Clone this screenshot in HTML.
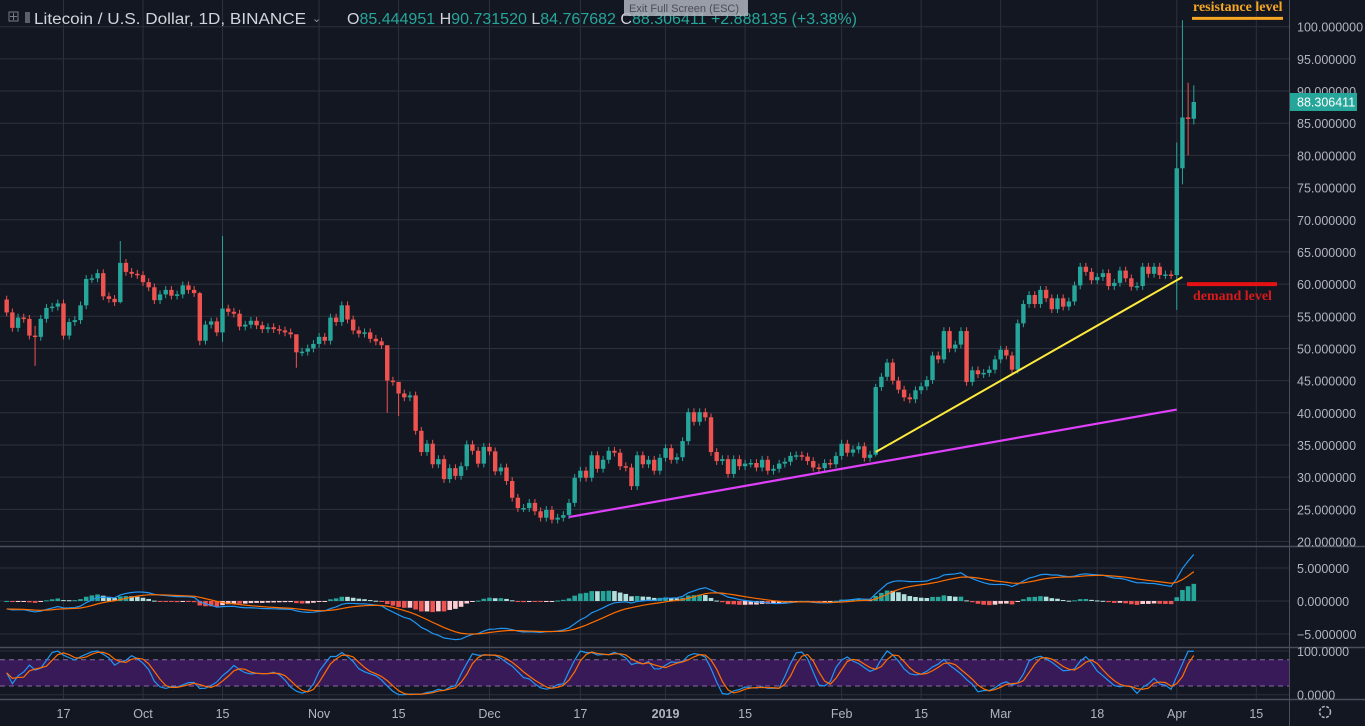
<!DOCTYPE html>
<html><head><meta charset="utf-8">
<style>
html,body{margin:0;padding:0;background:#131722;width:1365px;height:726px;overflow:hidden}
svg{display:block}
text{font-family:"Liberation Sans",sans-serif}
</style></head>
<body>
<svg id="chart" width="1365" height="726" viewBox="0 0 1365 726" xmlns="http://www.w3.org/2000/svg">
<rect x="0" y="0" width="1365" height="726" fill="#131722"/>
<g id="grid"></g>
<g id="indicators"></g>
<g id="candles"></g>
<g id="overlays"></g>
<g id="axes"></g>
<g>
  <rect x="9" y="12" width="9" height="9" fill="none" stroke="#787b86" stroke-width="1"/>
  <line x1="13.5" y1="13" x2="13.5" y2="20" stroke="#787b86"/><line x1="10" y1="16.5" x2="17" y2="16.5" stroke="#787b86"/>
  <rect x="25" y="12" width="5" height="11" fill="#5d606b"/>
  <text x="34" y="24" font-size="15.5" fill="#d1d4dc" textLength="272" lengthAdjust="spacingAndGlyphs">Litecoin / U.S. Dollar, 1D, BINANCE</text>
  <text x="312" y="22" font-size="11" fill="#9598a1">⌄</text>
  <text x="347" y="24" font-size="15.5" fill="#26a69a" textLength="510" lengthAdjust="spacingAndGlyphs"><tspan fill="#d1d4dc">O</tspan>85.444951  <tspan fill="#d1d4dc">H</tspan>90.731520  <tspan fill="#d1d4dc">L</tspan>84.767682  <tspan fill="#d1d4dc">C</tspan>88.306411   +2.888135 (+3.38%)</text>
  <rect x="624" y="0" width="124" height="16" fill="#b2b5be" opacity="0.85"/>
  <text x="629" y="12" font-size="11" fill="#4a4e59">Exit Full Screen (ESC)</text>
</g>
</svg>
<script>
// ---- data ----
const startDateLabel = "2018-09-07";
const closes = [
55.6,53.2,54.8,54.6,52.0,51.8,54.6,56.3,56.5,57.0,
52.0,54.1,54.4,56.7,60.8,60.9,61.7,58.1,57.7,57.2,
63.3,61.9,61.6,61.4,60.3,59.5,57.5,58.4,59.1,58.2,
58.4,59.8,59.1,58.6,51.2,53.7,54.2,52.5,56.2,55.7,
55.4,53.4,53.7,54.3,53.6,53.0,53.3,53.0,52.8,52.5,
52.2,49.4,49.5,50.0,50.7,51.8,51.2,54.8,54.1,56.7,
54.5,52.8,52.3,52.5,51.5,51.1,50.5,45.0,44.8,43.0,
42.4,42.7,37.2,33.9,35.2,32.0,32.8,29.7,31.4,30.2,
31.7,35.1,34.1,32.1,34.7,34.0,30.9,31.5,29.4,26.8,
25.2,25.2,26.0,24.7,23.7,24.9,23.4,23.7,24.1,26.0,
29.9,31.0,29.9,33.4,31.3,32.7,34.1,33.8,31.7,31.5,
28.6,33.4,32.0,32.7,31.0,33.0,34.5,32.7,33.1,35.6,
40.1,38.6,40.1,39.3,33.9,32.5,32.8,30.5,32.8,31.7,
32.1,32.2,31.5,32.7,31.0,31.3,32.1,32.4,33.3,33.4,
33.2,32.5,31.5,31.4,32.2,32.0,33.3,35.2,33.8,34.3,
34.8,33.0,33.5,44.0,45.6,47.8,45.0,43.6,42.4,42.1,
43.5,44.1,45.1,48.9,48.3,52.7,50.0,50.6,52.7,44.8,
46.6,46.0,46.2,46.7,48.3,49.8,48.9,46.7,53.9,56.9,
58.3,56.9,59.1,57.8,56.1,57.8,56.5,57.3,59.8,62.7,
61.9,60.6,61.1,61.7,59.7,60.2,62.1,60.9,59.6,59.7,
62.7,61.6,62.7,61.4,61.5,61.4,78.0,85.9,85.7,88.3
];
const firstOpen = 57.6;
// notable wicks [index, high, low]
const wickIdx  = [5, 20, 38, 67, 69, 153, 206, 207, 208, 209, 51, 34];
const wickHigh = [53.5, 66.7, 67.5, 45.8, 44.0, 44.5, 82.0, 101.0, 91.3, 90.9, 50.5, 58.8];
const wickLow  = [47.3, 57.0, 51.0, 40.0, 39.5, 33.2, 56.0, 75.5, 80.0, 84.8, 47.0, 50.5];
const dateTicks = ["17","Oct","15","Nov","15","Dec","17","2019","15","Feb","15","Mar","18","Apr","15"];
const dateTickDay = [10,24,38,55,69,85,101,116,130,147,161,175,192,206,220];
const priceTicks = [20,25,30,35,40,45,50,55,60,65,70,75,80,85,90,95,100];
const macdTicks = [5,0,-5];
const stochTicks = [100,0];
const magentaLine = [[99,23.8],[206,40.5]];
const yellowLine = [[153,33.9],[207,61.1]];
const demandLevel = 60;
const resistanceLevel = 101.3;

// ---- scales ----
const NS="http://www.w3.org/2000/svg";
const X = i => 143 + (i-24)*5.68;
const Y = p => 26.7 + (100-p)*6.435;
const YM = v => 601 - v*6.6;
const YS = v => 694.7 - v*0.437;
function mk(tag, attrs, parent){const e=document.createElementNS(NS,tag);for(const k in attrs)e.setAttribute(k,attrs[k]);parent.appendChild(e);return e;}
const gGrid=document.getElementById('grid'),gC=document.getElementById('candles'),gI=document.getElementById('indicators'),gO=document.getElementById('overlays'),gA=document.getElementById('axes');
const gridCol="#2c313d";

priceTicks.forEach(p=>{const l=mk('line',{x1:0,x2:1289,y1:Y(p),y2:Y(p),stroke:gridCol,'stroke-width':1},gGrid);

});
[YM(5),YM(0),YM(-5),YS(100),YS(0)].forEach(y=>{const l=mk('line',{x1:0,x2:1289,y1:y,y2:y,stroke:gridCol},gGrid);

});
dateTickDay.forEach(d=>{const l=mk('line',{x1:X(d),x2:X(d),y1:0,y2:700,stroke:gridCol},gGrid);

});
[[546.5],[647.5],[699.5]].forEach(([y])=>{const l=mk('line',{x1:0,x2:1365,y1:y,y2:y,stroke:"#4a4f5c",'stroke-width':1.5},gGrid);

});
const vb=mk('line',{x1:1289.5,x2:1289.5,y1:0,y2:726,stroke:"#4a4f5c"},gGrid);



const UP="#26a69a",DN="#ef5350";
closes.forEach((c,i)=>{
  const o = i===0?firstOpen:closes[i-1];
  let hi=Math.max(o,c), lo=Math.min(o,c);
  let wh=hi+0.6, wl=lo-0.6;
  const k=wickIdx.indexOf(i); if(k>=0){wh=wickHigh[k];wl=wickLow[k];}
  const col=c>=o?UP:DN, x=X(i);
  const w=mk('line',{x1:x,x2:x,y1:Y(wh),y2:Y(wl),stroke:col,'stroke-width':1},gC);
  
  
  const h=Math.max(1.5,Y(lo)-Y(hi));
  const b=mk('rect',{x:x-2.2,y:Y(hi),width:4.4,height:h,fill:col},gC);
  
  
});

function ema(arr,n){const k=2/(n+1);const out=[];let e=arr[0];arr.forEach((v,i)=>{e=i===0?v:v*k+e*(1-k);out.push(e);});return out;}
const e12=ema(closes,12),e26=ema(closes,26);
const macd=closes.map((c,i)=>e12[i]-e26[i]-1.2*Math.max(0,1-i/30));
const sig=ema(macd,9);
macd.forEach((m,i)=>{const h=m-sig[i];const prev=i?macd[i-1]-sig[i-1]:h;
  const col=h>=0?(h>=prev?"#26a69a":"#b2dfdb"):(h<=prev?"#ef5350":"#ffcdd2");
  const y0=YM(0),y1=YM(h);
  const r=mk('rect',{x:X(i)-2.3,y:Math.min(y0,y1),width:4.6,height:Math.max(1,Math.abs(y1-y0)),fill:col},gI);
  
  });
function pl(arr,fy,col,name){const p=mk('polyline',{points:arr.map((v,i)=>X(i)+','+fy(v)).join(' '),fill:'none',stroke:col,'stroke-width':1.2},gI);
  
  }
pl(macd,YM,"#2196f3",'macd-line');
pl(sig,YM,"#ff6d00",'signal-line');

const band=mk('rect',{x:0,y:YS(80),width:1289,height:YS(20)-YS(80),fill:"#371a57"},gI);


[80,20].forEach(v=>{const l=mk('line',{x1:0,x2:1289,y1:YS(v),y2:YS(v),stroke:"#8a6aa6",'stroke-dasharray':'5,4'},gI);

});
const rsi=[];let ag=0,al=0;
closes.forEach((c,i)=>{if(i===0){rsi.push(50);return;}const d=c-closes[i-1];const g=Math.max(d,0),l=Math.max(-d,0);
  ag=i<=14?(ag*(i-1)+g)/i:(ag*13+g)/14; al=i<=14?(al*(i-1)+l)/i:(al*13+l)/14;
  rsi.push(al===0?100:100-100/(1+ag/al));});
const st=rsi.map((r,i)=>{const w=rsi.slice(Math.max(0,i-13),i+1);const mn=Math.min(...w),mx=Math.max(...w);return mx===mn?50:100*(r-mn)/(mx-mn);});
const sma=(a,n)=>a.map((v,i)=>{const w=a.slice(Math.max(0,i-n+1),i+1);return w.reduce((s,x)=>s+x,0)/w.length;});
const K=sma(st,3),D=sma(K,3);
pl(K,YS,"#2196f3",'stoch-k-line');
pl(D,YS,"#ff6d00",'stoch-d-line');

function tl(pts,col,name,wd){const l=mk('line',{x1:X(pts[0][0]),y1:Y(pts[0][1]),x2:X(pts[1][0]),y2:Y(pts[1][1]),stroke:col,'stroke-width':wd},gO);
  
  }
tl(magentaLine,"#e040fb",'magenta-trendline',2.2);
tl(yellowLine,"#ffeb3b",'yellow-trendline',2);
const dl=mk('line',{x1:1187,x2:1277,y1:Y(demandLevel),y2:Y(demandLevel),stroke:"#e41212",'stroke-width':4},gO);


const dt=mk('text',{x:1193,y:Y(demandLevel)+16,fill:"#d81a1a",'font-size':14,'font-weight':'bold',style:"font-family:'Liberation Serif',serif"},gO);dt.textContent="demand level";


const rl=mk('line',{x1:1192,x2:1283,y1:Y(resistanceLevel),y2:Y(resistanceLevel),stroke:"#f5a623",'stroke-width':3},gO);


const rt=mk('text',{x:1193,y:11,fill:"#f5a623",'font-size':14,'font-weight':'bold',style:"font-family:'Liberation Serif',serif"},gO);rt.textContent="resistance level";



const lab="#b2b5be";
priceTicks.forEach(p=>{const t=mk('text',{x:1297,y:Y(p)+5,fill:lab,'font-size':12.5},gA);t.textContent=p.toFixed(6);
  
  });
macdTicks.forEach(v=>{const t=mk('text',{x:1297,y:YM(v)+5,fill:lab,'font-size':12.5},gA);t.textContent=(v<0?'\u2212'+(-v).toFixed(6):v.toFixed(6));
  
  });
stochTicks.forEach(v=>{const t=mk('text',{x:1297,y:YS(v)+5,fill:lab,'font-size':12.5},gA);t.textContent=v.toFixed(4);
  
  });
dateTicks.forEach((s,j)=>{const t=mk('text',{x:X(dateTickDay[j]),y:718,fill:lab,'font-size':12.5,'text-anchor':'middle','font-weight':s==='2019'?'bold':'normal'},gA);t.textContent=s;
  
  });
const last=closes[closes.length-1];
const bb=mk('rect',{x:1290,y:Y(last)-9,width:67,height:18,fill:"#26a69a"},gA);


const bt=mk('text',{x:1297,y:Y(last)+4.5,fill:"#ffffff",'font-size':12.5},gA);bt.textContent="88.306411";


const gear=mk('circle',{cx:1325,cy:712,r:5.5,fill:'none',stroke:'#b2b5be','stroke-width':1.5,'stroke-dasharray':'3,1.5'},gA);


</script>
</body></html>
